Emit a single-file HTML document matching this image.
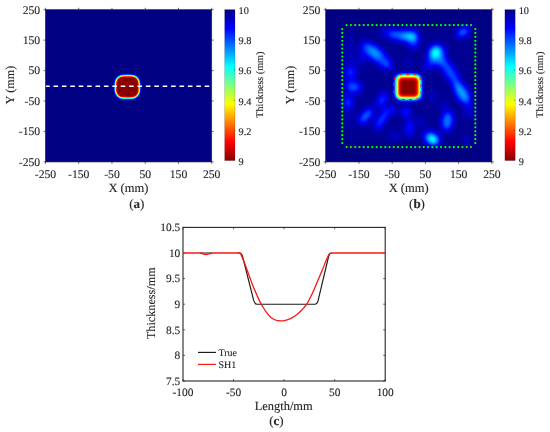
<!DOCTYPE html>
<html lang="en"><head><meta charset="utf-8"><title>Thickness reconstruction figure</title>
<style>
html,body{margin:0;padding:0;background:#fff;}
body{width:550px;height:432px;overflow:hidden;}
svg{display:block;}
svg text{font-family:"Liberation Serif","DejaVu Serif",serif;fill:#262626;stroke:#262626;stroke-width:0.12px;text-rendering:geometricPrecision;}
</style></head><body>
<svg width="550" height="432" viewBox="0 0 550 432">
<defs>
<linearGradient id="cbar" x1="0" y1="0" x2="0" y2="1">
<stop offset="0" stop-color="#000083"/><stop offset="0.125" stop-color="#0000ff"/><stop offset="0.375" stop-color="#00ffff"/><stop offset="0.625" stop-color="#ffff00"/><stop offset="0.875" stop-color="#ff0000"/><stop offset="1" stop-color="#8a0000"/>
</linearGradient>
<clipPath id="clip0"><rect x="45.5" y="9.7" width="166.2" height="152.2"/></clipPath>
<clipPath id="clip1"><rect x="325.7" y="9.7" width="166.2" height="152.2"/></clipPath>
<filter id="jet0" filterUnits="userSpaceOnUse" x="35" y="0" width="190" height="175" color-interpolation-filters="sRGB"><feComponentTransfer>
<feFuncR type="table" tableValues="0 0 0 0 .5 1 1 1 .54"/>
<feFuncG type="table" tableValues="0 0 .5 1 1 1 .5 0 0"/>
<feFuncB type="table" tableValues=".515 1 1 1 .5 0 0 0 0"/>
</feComponentTransfer></filter>
<filter id="jet1" filterUnits="userSpaceOnUse" x="315" y="0" width="190" height="175" color-interpolation-filters="sRGB"><feComponentTransfer>
<feFuncR type="table" tableValues="0 0 0 0 .5 1 1 1 .54"/>
<feFuncG type="table" tableValues="0 0 .5 1 1 1 .5 0 0"/>
<feFuncB type="table" tableValues=".515 1 1 1 .5 0 0 0 0"/>
</feComponentTransfer></filter>
<filter id="bl1" filterUnits="userSpaceOnUse" x="0" y="0" width="550" height="200" color-interpolation-filters="sRGB"><feGaussianBlur stdDeviation="1.1"/></filter>
<filter id="bl2" filterUnits="userSpaceOnUse" x="0" y="0" width="550" height="200" color-interpolation-filters="sRGB"><feGaussianBlur stdDeviation="3"/></filter>
<filter id="bl3" filterUnits="userSpaceOnUse" x="0" y="0" width="550" height="200" color-interpolation-filters="sRGB"><feGaussianBlur stdDeviation="2.8"/><feComponentTransfer><feFuncR type="linear" slope="1.35"/><feFuncG type="linear" slope="1.35"/><feFuncB type="linear" slope="1.35"/></feComponentTransfer></filter>
</defs>
<rect width="550" height="432" fill="#fff"/>
<g id="panel-a">
<g clip-path="url(#clip0)"><g filter="url(#jet0)">
<rect x="35.5" y="-0.3" width="186.2" height="172.2" fill="#000"/>
<g filter="url(#bl1)"><rect x="115.30" y="75.45" width="24.20" height="22.90" rx="8" fill="#fff" fill-opacity="1"/></g>
</g>
<path d="M45.5 86.2H211.7" stroke="#fff" stroke-width="1.5" stroke-dasharray="4.6 3.8" stroke-dashoffset="0.4" fill="none"/>
</g>
<rect x="45.50" y="9.7" width="166.20" height="152.20" fill="none" stroke="#262626" stroke-width="0.7"/>
<path d="M45.50 161.9v1.9M45.50 9.7v-1.9M45.50 9.70h-1.9M211.70 9.70h1.9M78.74 161.9v1.9M78.74 9.7v-1.9M45.50 40.14h-1.9M211.70 40.14h1.9M111.98 161.9v1.9M111.98 9.7v-1.9M45.50 70.58h-1.9M211.70 70.58h1.9M145.22 161.9v1.9M145.22 9.7v-1.9M45.50 101.02h-1.9M211.70 101.02h1.9M178.46 161.9v1.9M178.46 9.7v-1.9M45.50 131.46h-1.9M211.70 131.46h1.9M211.70 161.9v1.9M211.70 9.7v-1.9M45.50 161.90h-1.9M211.70 161.90h1.9" stroke="#262626" stroke-width="0.7" fill="none"/>
<text x="45.50" y="177.8" text-anchor="middle" font-size="11.7">-250</text>
<text x="40.20" y="165.70" text-anchor="end" font-size="11.7">-250</text>
<text x="78.74" y="177.8" text-anchor="middle" font-size="11.7">-150</text>
<text x="40.20" y="135.26" text-anchor="end" font-size="11.7">-150</text>
<text x="111.98" y="177.8" text-anchor="middle" font-size="11.7">-50</text>
<text x="40.20" y="104.82" text-anchor="end" font-size="11.7">-50</text>
<text x="145.22" y="177.8" text-anchor="middle" font-size="11.7">50</text>
<text x="40.20" y="74.38" text-anchor="end" font-size="11.7">50</text>
<text x="178.46" y="177.8" text-anchor="middle" font-size="11.7">150</text>
<text x="40.20" y="43.94" text-anchor="end" font-size="11.7">150</text>
<text x="211.70" y="177.8" text-anchor="middle" font-size="11.7">250</text>
<text x="40.20" y="13.50" text-anchor="end" font-size="11.7">250</text>
<text x="128.45" y="191.6" text-anchor="middle" font-size="12.5">X (mm)</text>
<text transform="translate(14 85) rotate(-90)" text-anchor="middle" font-size="12.2">Y (mm)</text>
<rect x="224.7" y="9.6" width="10.3" height="151.0" fill="url(#cbar)"/>
<rect x="224.7" y="9.6" width="10.3" height="151.0" fill="none" stroke="#262626" stroke-opacity="0.35" stroke-width="0.5"/>
<text x="238.50" y="164.90" font-size="10.3">9</text>
<text x="238.50" y="134.70" font-size="10.3">9.2</text>
<path d="M235.0 130.40h-1.5" stroke="#262626" stroke-width="0.5" stroke-opacity="0.7"/>
<text x="238.50" y="104.50" font-size="10.3">9.4</text>
<path d="M235.0 100.20h-1.5" stroke="#262626" stroke-width="0.5" stroke-opacity="0.7"/>
<text x="238.50" y="74.30" font-size="10.3">9.6</text>
<path d="M235.0 70.00h-1.5" stroke="#262626" stroke-width="0.5" stroke-opacity="0.7"/>
<text x="238.50" y="44.10" font-size="10.3">9.8</text>
<path d="M235.0 39.80h-1.5" stroke="#262626" stroke-width="0.5" stroke-opacity="0.7"/>
<text x="238.50" y="13.90" font-size="10.3">10</text>
<text transform="translate(263 84.7) rotate(-90)" text-anchor="middle" font-size="10.1">Thickness (mm)</text>
<text x="136.8" y="208" text-anchor="middle" font-size="13" fill="#000">(<tspan font-weight="bold">a</tspan>)</text>
</g>
<g id="panel-b">
<g clip-path="url(#clip1)"><g filter="url(#jet1)">
<rect x="315.7" y="-0.3" width="186.2" height="172.2" fill="#000"/>
<g filter="url(#bl2)"><rect x="345" y="28" width="128" height="116" fill="#fff" fill-opacity="0.015"/>
<ellipse cx="349.0" cy="60.0" rx="4" ry="28" fill="#fff" fill-opacity="0.05"/>
<ellipse cx="349.0" cy="110.0" rx="4" ry="20" fill="#fff" fill-opacity="0.04"/>
<ellipse cx="403.0" cy="35.5" rx="15" ry="5" fill="#fff" fill-opacity="0.22" transform="rotate(3 403.0 35.5)"/>
<ellipse cx="406.5" cy="36.5" rx="7" ry="4.5" fill="#fff" fill-opacity="0.12"/>
<ellipse cx="388.0" cy="32.5" rx="9" ry="3.5" fill="#fff" fill-opacity="0.1"/>
<ellipse cx="413.5" cy="40.0" rx="5" ry="9" fill="#fff" fill-opacity="0.2"/>
<ellipse cx="377.0" cy="55.0" rx="18" ry="6.5" fill="#fff" fill-opacity="0.19" transform="rotate(43 377.0 55.0)"/>
<ellipse cx="364.0" cy="50.0" rx="6" ry="7" fill="#fff" fill-opacity="0.08"/>
<ellipse cx="375.0" cy="53.0" rx="7" ry="4.5" fill="#fff" fill-opacity="0.13" transform="rotate(48 375.0 53.0)"/>
<ellipse cx="388.0" cy="66.0" rx="4" ry="4" fill="#fff" fill-opacity="0.1"/>
<ellipse cx="361.0" cy="60.0" rx="7" ry="3.5" fill="#fff" fill-opacity="0.09" transform="rotate(-15 361.0 60.0)"/>
<ellipse cx="351.0" cy="72.5" rx="6" ry="6" fill="#fff" fill-opacity="0.14"/>
<ellipse cx="353.5" cy="87.0" rx="8" ry="5.5" fill="#fff" fill-opacity="0.21"/>
<ellipse cx="347.8" cy="102.5" rx="5" ry="6" fill="#fff" fill-opacity="0.17"/>
<ellipse cx="435.4" cy="53.0" rx="5" ry="6" fill="#fff" fill-opacity="0.3" transform="rotate(10 435.4 53.0)"/>
<ellipse cx="437.0" cy="55.0" rx="9" ry="11" fill="#fff" fill-opacity="0.2"/>
<ellipse cx="450.0" cy="72.0" rx="5.5" ry="15" fill="#fff" fill-opacity="0.2" transform="rotate(-33 450.0 72.0)"/>
<ellipse cx="428.0" cy="65.0" rx="4" ry="6" fill="#fff" fill-opacity="0.13" transform="rotate(25 428.0 65.0)"/>
<ellipse cx="463.0" cy="32.0" rx="6.5" ry="3.5" fill="#fff" fill-opacity="0.32" transform="rotate(-30 463.0 32.0)"/>
<ellipse cx="408.5" cy="62.0" rx="3" ry="3" fill="#fff" fill-opacity="0.1"/>
<ellipse cx="462.0" cy="93.0" rx="5.5" ry="12" fill="#fff" fill-opacity="0.3" transform="rotate(-32 462.0 93.0)"/>
<ellipse cx="469.0" cy="110.0" rx="3.5" ry="8" fill="#fff" fill-opacity="0.1" transform="rotate(-10 469.0 110.0)"/>
<ellipse cx="447.3" cy="121.0" rx="5" ry="10" fill="#fff" fill-opacity="0.27" transform="rotate(8 447.3 121.0)"/>
<ellipse cx="444.0" cy="106.0" rx="4" ry="5" fill="#fff" fill-opacity="0.08"/>
<ellipse cx="432.5" cy="139.5" rx="7" ry="4.5" fill="#fff" fill-opacity="0.4" transform="rotate(33 432.5 139.5)"/>
<ellipse cx="431.0" cy="137.0" rx="9" ry="7" fill="#fff" fill-opacity="0.1" transform="rotate(33 431.0 137.0)"/>
<ellipse cx="467.0" cy="141.0" rx="3.5" ry="3.5" fill="#fff" fill-opacity="0.1"/>
<ellipse cx="432.0" cy="97.0" rx="2.5" ry="8" fill="#fff" fill-opacity="0.08"/>
<ellipse cx="366.0" cy="116.0" rx="10" ry="3.8" fill="#fff" fill-opacity="0.27" transform="rotate(-48 366.0 116.0)"/>
<ellipse cx="382.0" cy="100.0" rx="8" ry="3.5" fill="#fff" fill-opacity="0.22" transform="rotate(-60 382.0 100.0)"/>
<ellipse cx="382.0" cy="119.0" rx="13" ry="3.6" fill="#fff" fill-opacity="0.21" transform="rotate(-58 382.0 119.0)"/>
<ellipse cx="392.5" cy="109.5" rx="4" ry="3" fill="#fff" fill-opacity="0.17" transform="rotate(25 392.5 109.5)"/>
<ellipse cx="406.0" cy="112.0" rx="4" ry="5" fill="#fff" fill-opacity="0.2"/>
<ellipse cx="409.5" cy="128.0" rx="3.5" ry="9" fill="#fff" fill-opacity="0.18" transform="rotate(5 409.5 128.0)"/>
<ellipse cx="394.5" cy="136.0" rx="5" ry="5" fill="#fff" fill-opacity="0.08"/>
<ellipse cx="421.0" cy="122.0" rx="3" ry="6" fill="#fff" fill-opacity="0.08" transform="rotate(-20 421.0 122.0)"/></g><g filter="url(#bl3)"><rect x="396.70" y="75.80" width="23.20" height="22.60" rx="3" fill="#fff" fill-opacity="1"/></g>
</g>
<rect x="393.8" y="74.6" width="27.2" height="25" rx="7" fill="none" stroke="#ff1010" stroke-width="1" stroke-dasharray="2.9 4.2" stroke-dashoffset="1.5"/><path d="M346.6 25.1L471.02 25.10" stroke="#00ff00" stroke-width="2.25" stroke-linecap="round" stroke-dasharray="0 4.29" fill="none"/><path d="M346.6 147.0L471.02 147.00" stroke="#00ff00" stroke-width="2.25" stroke-linecap="round" stroke-dasharray="0 4.29" fill="none"/><path d="M342.3 29.0L342.30 143.10" stroke="#00ff00" stroke-width="2.25" stroke-linecap="round" stroke-dasharray="0 3.934" fill="none"/><path d="M475.3 29.0L475.30 143.10" stroke="#00ff00" stroke-width="2.25" stroke-linecap="round" stroke-dasharray="0 3.934" fill="none"/>
</g>
<rect x="325.70" y="9.7" width="166.20" height="152.20" fill="none" stroke="#262626" stroke-width="0.7"/>
<path d="M325.70 161.9v1.9M325.70 9.7v-1.9M325.70 9.70h-1.9M491.90 9.70h1.9M358.94 161.9v1.9M358.94 9.7v-1.9M325.70 40.14h-1.9M491.90 40.14h1.9M392.18 161.9v1.9M392.18 9.7v-1.9M325.70 70.58h-1.9M491.90 70.58h1.9M425.42 161.9v1.9M425.42 9.7v-1.9M325.70 101.02h-1.9M491.90 101.02h1.9M458.66 161.9v1.9M458.66 9.7v-1.9M325.70 131.46h-1.9M491.90 131.46h1.9M491.90 161.9v1.9M491.90 9.7v-1.9M325.70 161.90h-1.9M491.90 161.90h1.9" stroke="#262626" stroke-width="0.7" fill="none"/>
<text x="325.70" y="177.8" text-anchor="middle" font-size="11.7">-250</text>
<text x="320.40" y="165.70" text-anchor="end" font-size="11.7">-250</text>
<text x="358.94" y="177.8" text-anchor="middle" font-size="11.7">-150</text>
<text x="320.40" y="135.26" text-anchor="end" font-size="11.7">-150</text>
<text x="392.18" y="177.8" text-anchor="middle" font-size="11.7">-50</text>
<text x="320.40" y="104.82" text-anchor="end" font-size="11.7">-50</text>
<text x="425.42" y="177.8" text-anchor="middle" font-size="11.7">50</text>
<text x="320.40" y="74.38" text-anchor="end" font-size="11.7">50</text>
<text x="458.66" y="177.8" text-anchor="middle" font-size="11.7">150</text>
<text x="320.40" y="43.94" text-anchor="end" font-size="11.7">150</text>
<text x="491.90" y="177.8" text-anchor="middle" font-size="11.7">250</text>
<text x="320.40" y="13.50" text-anchor="end" font-size="11.7">250</text>
<text x="408.65" y="191.6" text-anchor="middle" font-size="12.5">X (mm)</text>
<text transform="translate(294.2 85) rotate(-90)" text-anchor="middle" font-size="12.2">Y (mm)</text>
<rect x="504.9" y="9.6" width="10.3" height="151.0" fill="url(#cbar)"/>
<rect x="504.9" y="9.6" width="10.3" height="151.0" fill="none" stroke="#262626" stroke-opacity="0.35" stroke-width="0.5"/>
<text x="518.70" y="164.90" font-size="10.3">9</text>
<text x="518.70" y="134.70" font-size="10.3">9.2</text>
<path d="M515.1999999999999 130.40h-1.5" stroke="#262626" stroke-width="0.5" stroke-opacity="0.7"/>
<text x="518.70" y="104.50" font-size="10.3">9.4</text>
<path d="M515.1999999999999 100.20h-1.5" stroke="#262626" stroke-width="0.5" stroke-opacity="0.7"/>
<text x="518.70" y="74.30" font-size="10.3">9.6</text>
<path d="M515.1999999999999 70.00h-1.5" stroke="#262626" stroke-width="0.5" stroke-opacity="0.7"/>
<text x="518.70" y="44.10" font-size="10.3">9.8</text>
<path d="M515.1999999999999 39.80h-1.5" stroke="#262626" stroke-width="0.5" stroke-opacity="0.7"/>
<text x="518.70" y="13.90" font-size="10.3">10</text>
<text transform="translate(543.2 84.7) rotate(-90)" text-anchor="middle" font-size="10.1">Thickness (mm)</text>
<text x="417.0" y="208" text-anchor="middle" font-size="13" fill="#000">(<tspan font-weight="bold">b</tspan>)</text>
</g>
<g id="panel-c">
<rect x="183.0" y="227.4" width="202.20" height="153.60" fill="#fff" stroke="#262626" stroke-width="1.1"/>
<text x="183.00" y="395.7" text-anchor="middle" font-size="11.4">-100</text>
<text x="233.55" y="395.7" text-anchor="middle" font-size="11.4">-50</text>
<text x="284.10" y="395.7" text-anchor="middle" font-size="11.4">0</text>
<text x="334.65" y="395.7" text-anchor="middle" font-size="11.4">50</text>
<text x="385.20" y="395.7" text-anchor="middle" font-size="11.4">100</text>
<text x="180.30" y="384.70" text-anchor="end" font-size="11.4">7.5</text>
<text x="180.30" y="359.10" text-anchor="end" font-size="11.4">8</text>
<text x="180.30" y="333.50" text-anchor="end" font-size="11.4">8.5</text>
<text x="180.30" y="307.90" text-anchor="end" font-size="11.4">9</text>
<text x="180.30" y="282.30" text-anchor="end" font-size="11.4">9.5</text>
<text x="180.30" y="256.70" text-anchor="end" font-size="11.4">10</text>
<text x="180.30" y="231.10" text-anchor="end" font-size="11.4">10.5</text>
<path d="M183.00 381.0v-2M183.00 227.4v2M233.55 381.0v-2M233.55 227.4v2M284.10 381.0v-2M284.10 227.4v2M334.65 381.0v-2M334.65 227.4v2M385.20 381.0v-2M385.20 227.4v2M183.0 381.00h2M385.2 381.00h-2M183.0 355.40h2M385.2 355.40h-2M183.0 329.80h2M385.2 329.80h-2M183.0 304.20h2M385.2 304.20h-2M183.0 278.60h2M385.2 278.60h-2M183.0 253.00h2M385.2 253.00h-2M183.0 227.40h2M385.2 227.40h-2" stroke="#262626" stroke-width="0.7" fill="none"/>
<path d="M200 253.00H212M238 253.00H239.6C241.6 253.00 242 254.50 242.6 256.50L253.6 300.20C254.3 303.20 255 304.20 257 304.20H315C317 304.20 317.6 303.20 318.2 300.20L328.6 256.50C329.2 254.20 329.8 253.00 331.6 253.00" stroke="#1a1a1a" stroke-width="1.15" fill="none" stroke-linejoin="round"/>
<path d="M183.0 253.00H199C203 253.00 203 254.60 206 254.60C209 254.60 209 253.00 213 253.00H240.2C240.40 253.40 240.58 253.47 241.40 255.40C242.22 257.33 243.23 259.68 245.10 264.60C246.97 269.52 250.92 280.47 252.60 284.90C254.28 289.33 254.07 288.58 255.20 291.20C256.33 293.82 258.22 298.13 259.40 300.60C260.58 303.07 261.10 304.00 262.30 306.00C263.50 308.00 265.15 310.70 266.60 312.60C268.05 314.50 269.53 316.17 271.00 317.40C272.47 318.63 273.82 319.42 275.40 320.00C276.98 320.58 278.82 320.85 280.50 320.90C282.18 320.95 283.68 320.75 285.50 320.30C287.32 319.85 289.48 319.15 291.40 318.20C293.32 317.25 295.27 315.97 297.00 314.60C298.73 313.23 300.13 311.82 301.80 310.00C303.47 308.18 305.12 306.75 307.00 303.70C308.88 300.65 311.33 295.47 313.10 291.70C314.87 287.93 316.10 284.62 317.60 281.10C319.10 277.58 320.60 274.23 322.10 270.60C323.60 266.97 325.40 262.07 326.60 259.30C327.80 256.53 328.53 255.05 329.30 254.00C330.07 252.95 330.88 253.17 331.20 253.00H385.2" stroke="#ff1414" stroke-width="1.3" fill="none" stroke-linejoin="round"/>
<path d="M198 352.4H216" stroke="#1a1a1a" stroke-width="1.15"/><path d="M198 364.4H216" stroke="#ff1414" stroke-width="1.15"/>
<text x="218.4" y="355.8" font-size="10">True</text><text x="218.4" y="367.8" font-size="10">SH1</text>
<text x="283.7" y="410" text-anchor="middle" font-size="12.4">Length/mm</text>
<text transform="translate(155 303.2) rotate(-90)" text-anchor="middle" font-size="12.2">Thickness/mm</text>
<text x="276.4" y="424.8" text-anchor="middle" font-size="13" fill="#000">(<tspan font-weight="bold">c</tspan>)</text>
</g>
</svg>
</body></html>
